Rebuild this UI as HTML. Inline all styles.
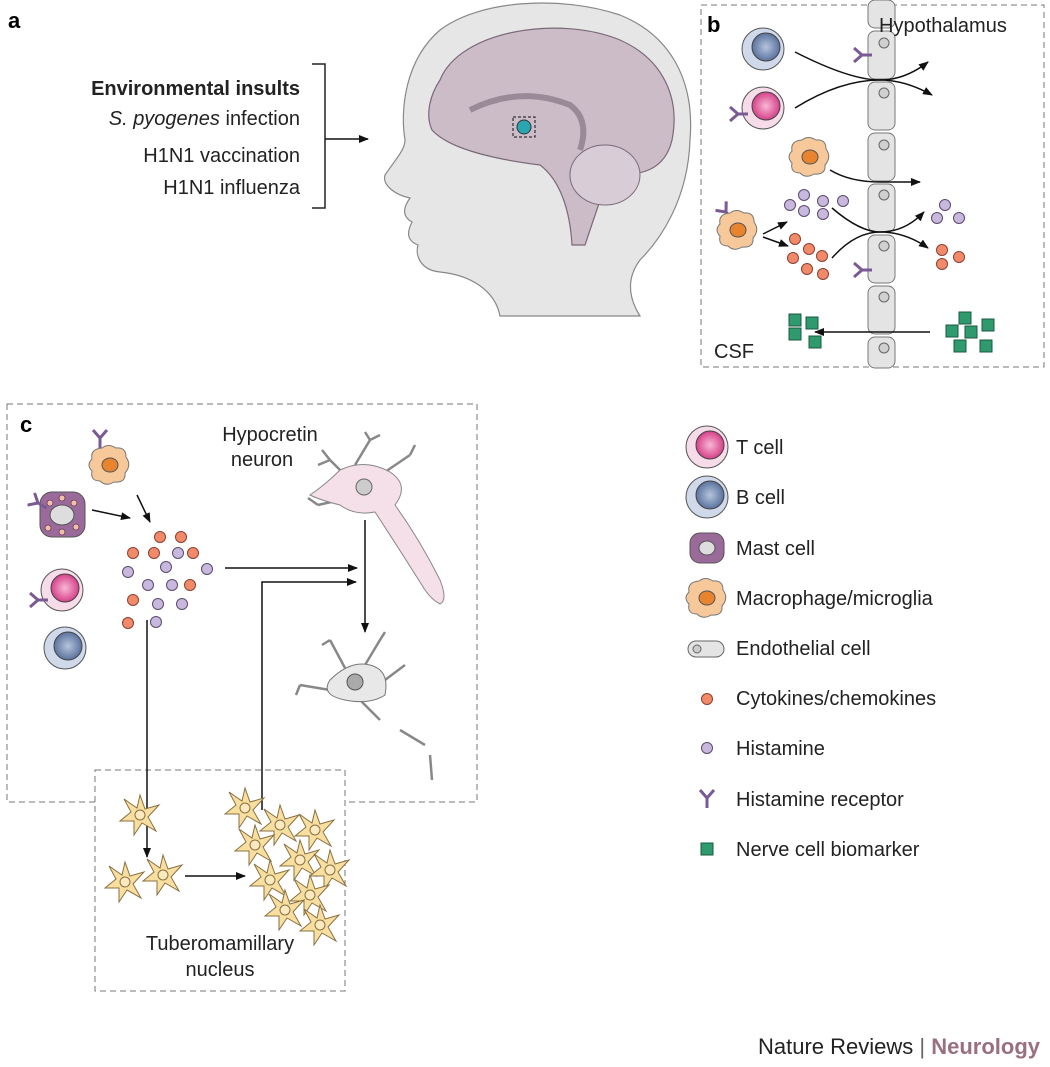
<!DOCTYPE html>
<html><head><meta charset="utf-8"><style>
body{margin:0;background:#fff;width:1050px;height:1067px;overflow:hidden}
svg{display:block;font-family:"Liberation Sans",sans-serif}
</style></head><body>
<svg width="1050" height="1067" viewBox="0 0 1050 1067">
<defs>
<marker id="ah" markerWidth="10" markerHeight="8" refX="9" refY="4" orient="auto" markerUnits="userSpaceOnUse"><path d="M0,0 L10,4 L0,8 z" fill="#111"/></marker>
<radialGradient id="tc"><stop offset="0" stop-color="#f7b8d4"/><stop offset="1" stop-color="#d6408a"/></radialGradient>
<radialGradient id="bc"><stop offset="0" stop-color="#b5c4dc"/><stop offset="1" stop-color="#5b739e"/></radialGradient>
<g id="tcell"><circle r="21" fill="#f6dbe8" stroke="#555" stroke-width="1"/><circle cx="3" cy="-2" r="14" fill="url(#tc)" stroke="#444" stroke-width="1"/></g>
<g id="bcell"><circle r="21" fill="#cfd9ea" stroke="#555" stroke-width="1"/><circle cx="3" cy="-2" r="14" fill="url(#bc)" stroke="#444" stroke-width="1"/></g>
<g id="mac"><path d="M-18,-6 Q-20,-16 -8,-17 Q-2,-22 6,-17 Q16,-18 16,-8 Q22,0 15,8 Q16,18 4,17 Q-4,22 -10,16 Q-20,16 -18,6 Q-24,0 -18,-6z" fill="#f6c89a" stroke="#777" stroke-width="1"/><ellipse cx="0" cy="0" rx="8" ry="7" fill="#e8842e" stroke="#555" stroke-width="1"/></g>
<g id="rec"><path d="M0,0 L0,10 M0,0 L-7,-8 M0,0 L7,-8" stroke="#7a5a94" stroke-width="3" fill="none"/></g>
<g id="cyt"><circle r="5.5" fill="#f28a6a" stroke="#8a4030" stroke-width="1"/></g>
<g id="his"><circle r="5.5" fill="#c9b8dd" stroke="#5a4a70" stroke-width="1"/></g>
<g id="bio"><rect x="-6" y="-6" width="12" height="12" fill="#2e9a6e" stroke="#1a5a40" stroke-width="1"/></g>
<g id="star"><path d="M0,-20 L5,-6 L19,-10 L8,2 L16,16 L2,8 L-6,20 L-6,6 L-20,6 L-9,-3 L-16,-16 L-3,-7z" fill="#f8dfa0" stroke="#8a7040" stroke-width="1"/><circle r="5" fill="#fbe9c0" stroke="#8a7040" stroke-width="1"/></g>
</defs>

<!-- a -->
<text x="8" y="28" font-size="22" font-weight="bold">a</text>
<g font-size="20" fill="#222" text-anchor="end">
<text x="300" y="95" font-weight="bold">Environmental insults</text>
<text x="300" y="125"><tspan font-style="italic">S. pyogenes</tspan> infection</text>
<text x="300" y="162">H1N1 vaccination</text>
<text x="300" y="194">H1N1 influenza</text>
</g>
<path d="M312,64 H325 V208 H312" fill="none" stroke="#222" stroke-width="1.5"/>
<line x1="325" y1="139" x2="368" y2="139" stroke="#111" stroke-width="1.5" marker-end="url(#ah)"/>
<!-- head -->
<path d="M500,316 C495,290 470,275 440,272 C420,270 415,255 418,245 C405,240 408,230 412,222 C400,215 405,205 410,198 C395,195 382,185 385,175 C395,160 405,150 405,140 C400,110 405,60 440,30 C480,0 560,-5 620,15 C670,35 695,80 690,140 C688,200 660,240 640,260 C625,280 630,300 640,316 Z" fill="#e6e6e6" stroke="#888" stroke-width="1.2"/>
<path d="M440,80 C460,30 560,15 620,40 C665,60 680,100 672,140 C665,170 640,178 610,172 C600,200 590,230 585,245 L572,245 C570,210 560,180 540,165 C500,160 450,150 432,130 C425,115 430,95 440,80Z" fill="#cbbcc8" stroke="#7a6a78" stroke-width="1.2"/>
<path d="M470,110 Q520,85 570,105 Q590,120 580,150" fill="none" stroke="#9a8a98" stroke-width="6"/>
<ellipse cx="605" cy="175" rx="35" ry="30" fill="#d8ccd6" stroke="#7a6a78"/>
<circle cx="524" cy="127" r="7" fill="#2aa6b0" stroke="#333"/>
<rect x="513" y="117" width="22" height="20" fill="none" stroke="#111" stroke-dasharray="3,2"/>

<!-- b -->
<rect x="701" y="5" width="343" height="362" fill="none" stroke="#777" stroke-dasharray="6,4"/>
<text x="707" y="32" font-size="22" font-weight="bold">b</text>
<g fill="#e4e4e4" stroke="#777" stroke-width="1">
<rect x="868" y="0" width="27" height="28" rx="7"/>
<rect x="868" y="31" width="27" height="48" rx="7"/>
<rect x="868" y="82" width="27" height="48" rx="7"/>
<rect x="868" y="133" width="27" height="48" rx="7"/>
<rect x="868" y="184" width="27" height="48" rx="7"/>
<rect x="868" y="235" width="27" height="48" rx="7"/>
<rect x="868" y="286" width="27" height="48" rx="7"/>
<rect x="868" y="337" width="27" height="31" rx="7"/>
</g>
<g fill="#d0d0d0" stroke="#666"><circle cx="884" cy="43" r="5"/><circle cx="884" cy="93" r="5"/><circle cx="884" cy="145" r="5"/><circle cx="884" cy="195" r="5"/><circle cx="884" cy="246" r="5"/><circle cx="884" cy="297" r="5"/><circle cx="884" cy="348" r="5"/></g>
<text x="879" y="32" font-size="20" fill="#222">Hypothalamus</text>
<text x="714" y="358" font-size="20" fill="#222">CSF</text>
<use href="#bcell" x="763" y="49"/><use href="#tcell" x="763" y="108"/>
<use href="#rec" x="738" y="114" transform="rotate(-90 738 114)"/>
<use href="#rec" x="862" y="55" transform="rotate(-90 862 55)"/>
<use href="#rec" x="862" y="270" transform="rotate(-90 862 270)"/>
<use href="#rec" x="726" y="212" transform="rotate(-40 726 212)"/>
<g fill="none" stroke="#111" stroke-width="1.5">
<path d="M795,52 Q850,80 880,80 Q905,80 928,62" marker-end="url(#ah)"/>
<path d="M795,108 Q840,80 880,80 Q905,80 932,95" marker-end="url(#ah)"/>
<path d="M830,170 Q850,182 880,182 L920,182" marker-end="url(#ah)"/>
<path d="M832,208 Q860,232 880,232 Q905,232 928,248" marker-end="url(#ah)"/>
<path d="M832,258 Q855,232 880,232 Q905,232 924,212" marker-end="url(#ah)"/>
<path d="M763,234 L787,222" marker-end="url(#ah)"/>
<path d="M763,237 L788,246" marker-end="url(#ah)"/>
<path d="M930,332 L815,332" marker-end="url(#ah)"/>
</g>
<use href="#mac" x="810" y="157"/><use href="#mac" x="738" y="230"/>
<use href="#his" x="790" y="205"/><use href="#his" x="804" y="195"/><use href="#his" x="804" y="211"/><use href="#his" x="823" y="201"/><use href="#his" x="843" y="201"/><use href="#his" x="823" y="214"/>
<use href="#cyt" x="795" y="239"/><use href="#cyt" x="809" y="249"/><use href="#cyt" x="793" y="258"/><use href="#cyt" x="822" y="256"/><use href="#cyt" x="807" y="269"/><use href="#cyt" x="823" y="274"/>
<use href="#his" x="945" y="205"/><use href="#his" x="937" y="218"/><use href="#his" x="959" y="218"/>
<use href="#cyt" x="942" y="250"/><use href="#cyt" x="942" y="264"/><use href="#cyt" x="959" y="257"/>
<use href="#bio" x="795" y="320"/><use href="#bio" x="812" y="323"/><use href="#bio" x="795" y="334"/><use href="#bio" x="815" y="342"/>
<use href="#bio" x="965" y="318"/><use href="#bio" x="988" y="325"/><use href="#bio" x="952" y="331"/><use href="#bio" x="971" y="332"/><use href="#bio" x="960" y="346"/><use href="#bio" x="986" y="346"/>

<!-- c -->
<rect x="7" y="404" width="470" height="398" fill="none" stroke="#777" stroke-dasharray="6,4"/>
<rect x="95" y="770" width="250" height="221" fill="#fff" stroke="#777" stroke-dasharray="6,4"/>
<text x="20" y="432" font-size="22" font-weight="bold">c</text>
<text x="270" y="441" font-size="20" fill="#222" text-anchor="middle">Hypocretin</text>
<text x="262" y="466" font-size="20" fill="#222" text-anchor="middle">neuron</text>
<use href="#mac" x="110" y="465"/><use href="#rec" x="100" y="438"/>
<rect x="40" y="492" width="45" height="45" rx="12" fill="#9a6a9a" stroke="#555"/><ellipse cx="62" cy="515" rx="12" ry="10" fill="#ddd" stroke="#555"/>
<g fill="#f2c0a8" stroke="#6a3a5a" stroke-width="0.8"><circle cx="50" cy="503" r="3"/><circle cx="74" cy="503" r="3"/><circle cx="48" cy="528" r="3"/><circle cx="76" cy="527" r="3"/><circle cx="62" cy="498" r="3"/><circle cx="62" cy="532" r="3"/></g>
<use href="#rec" x="38" y="503" transform="rotate(-60 38 503)"/>
<use href="#tcell" x="62" y="590"/><use href="#rec" x="38" y="600" transform="rotate(-90 38 600)"/>
<use href="#bcell" x="65" y="648"/>
<g fill="none" stroke="#111" stroke-width="1.5">
<line x1="137" y1="495" x2="150" y2="522" marker-end="url(#ah)"/>
<line x1="92" y1="510" x2="130" y2="518" marker-end="url(#ah)"/>
<line x1="225" y1="568" x2="357" y2="568" marker-end="url(#ah)"/>
<line x1="147" y1="620" x2="147" y2="857" marker-end="url(#ah)"/>
<line x1="185" y1="876" x2="245" y2="876" marker-end="url(#ah)"/>
<path d="M262,810 V582 H356" marker-end="url(#ah)"/>
<line x1="365" y1="520" x2="365" y2="632" marker-end="url(#ah)"/>
</g>
<g><use href="#cyt" x="160" y="537"/><use href="#cyt" x="181" y="537"/><use href="#cyt" x="133" y="553"/><use href="#cyt" x="154" y="553"/><use href="#his" x="178" y="553"/><use href="#cyt" x="193" y="553"/><use href="#his" x="166" y="567"/><use href="#his" x="207" y="569"/><use href="#his" x="128" y="572"/><use href="#his" x="148" y="585"/><use href="#cyt" x="133" y="600"/><use href="#his" x="172" y="585"/><use href="#cyt" x="190" y="585"/><use href="#his" x="182" y="604"/><use href="#his" x="158" y="604"/><use href="#cyt" x="128" y="623"/><use href="#his" x="156" y="622"/></g>
<!-- neurons -->
<g stroke="#888" stroke-width="2.5" fill="none">
<path d="M345,475 L330,460 M330,460 L322,450 M330,460 L318,465 M355,465 L370,440 M370,440 L365,432 M370,440 L380,435 M385,472 L410,455 M410,455 L415,445 M340,500 L318,505 M318,505 L308,498"/>
</g>
<path d="M340,470 Q365,458 390,472 Q410,485 395,505 Q420,540 440,580 Q448,600 440,604 Q432,600 425,590 Q400,550 375,512 Q355,516 340,505 Q320,500 310,495 Q325,485 340,470Z" fill="#f5dfe8" stroke="#888"/>
<circle cx="364" cy="487" r="8" fill="#ccc" stroke="#666"/>
<g stroke="#888" stroke-width="2.5" fill="none">
<path d="M345,668 L330,640 M330,640 L322,645 M365,665 L380,640 M380,640 L385,632 M385,680 L405,665 M330,690 L300,685 M300,685 L296,695 M360,700 L380,720 M400,730 L425,745 M430,755 L432,780"/>
</g>
<path d="M330,680 Q350,660 370,665 Q390,670 385,695 Q370,705 345,700 Q320,695 330,680Z" fill="#e8e8e8" stroke="#777"/>
<circle cx="355" cy="682" r="8" fill="#aaa" stroke="#555"/>
<g><use href="#star" x="140" y="815"/><use href="#star" x="163" y="875"/><use href="#star" x="125" y="882"/>
<use href="#star" x="245" y="808"/><use href="#star" x="280" y="825"/><use href="#star" x="315" y="830"/><use href="#star" x="255" y="845"/><use href="#star" x="300" y="860"/><use href="#star" x="330" y="870"/><use href="#star" x="270" y="880"/><use href="#star" x="310" y="895"/><use href="#star" x="285" y="910"/><use href="#star" x="320" y="925"/></g>
<text x="220" y="950" font-size="20" fill="#222" text-anchor="middle">Tuberomamillary</text>
<text x="220" y="976" font-size="20" fill="#222" text-anchor="middle">nucleus</text>

<!-- legend -->
<use href="#tcell" x="707" y="447"/>
<use href="#bcell" x="707" y="497"/>
<rect x="690" y="533" width="34" height="30" rx="10" fill="#9a6a9a" stroke="#555"/><ellipse cx="707" cy="548" rx="8" ry="7" fill="#ddd" stroke="#555"/>
<use href="#mac" x="707" y="598"/>
<rect x="688" y="641" width="36" height="16" rx="8" fill="#e4e4e4" stroke="#666"/><circle cx="697" cy="649" r="4" fill="#ccc" stroke="#666"/>
<use href="#cyt" x="707" y="699"/><use href="#his" x="707" y="748"/>
<use href="#rec" x="707" y="798"/>
<use href="#bio" x="707" y="849"/>
<g font-size="20" fill="#222">
<text x="736" y="454">T cell</text><text x="736" y="504">B cell</text><text x="736" y="555">Mast cell</text><text x="736" y="605">Macrophage/microglia</text><text x="736" y="655">Endothelial cell</text><text x="736" y="705">Cytokines/chemokines</text><text x="736" y="755">Histamine</text><text x="736" y="806">Histamine receptor</text><text x="736" y="856">Nerve cell biomarker</text>
</g>
<text x="1040" y="1054" font-size="22" text-anchor="end" fill="#222">Nature Reviews <tspan fill="#666">|</tspan> <tspan fill="#9a7080" font-weight="bold">Neurology</tspan></text>
</svg>
</body></html>
